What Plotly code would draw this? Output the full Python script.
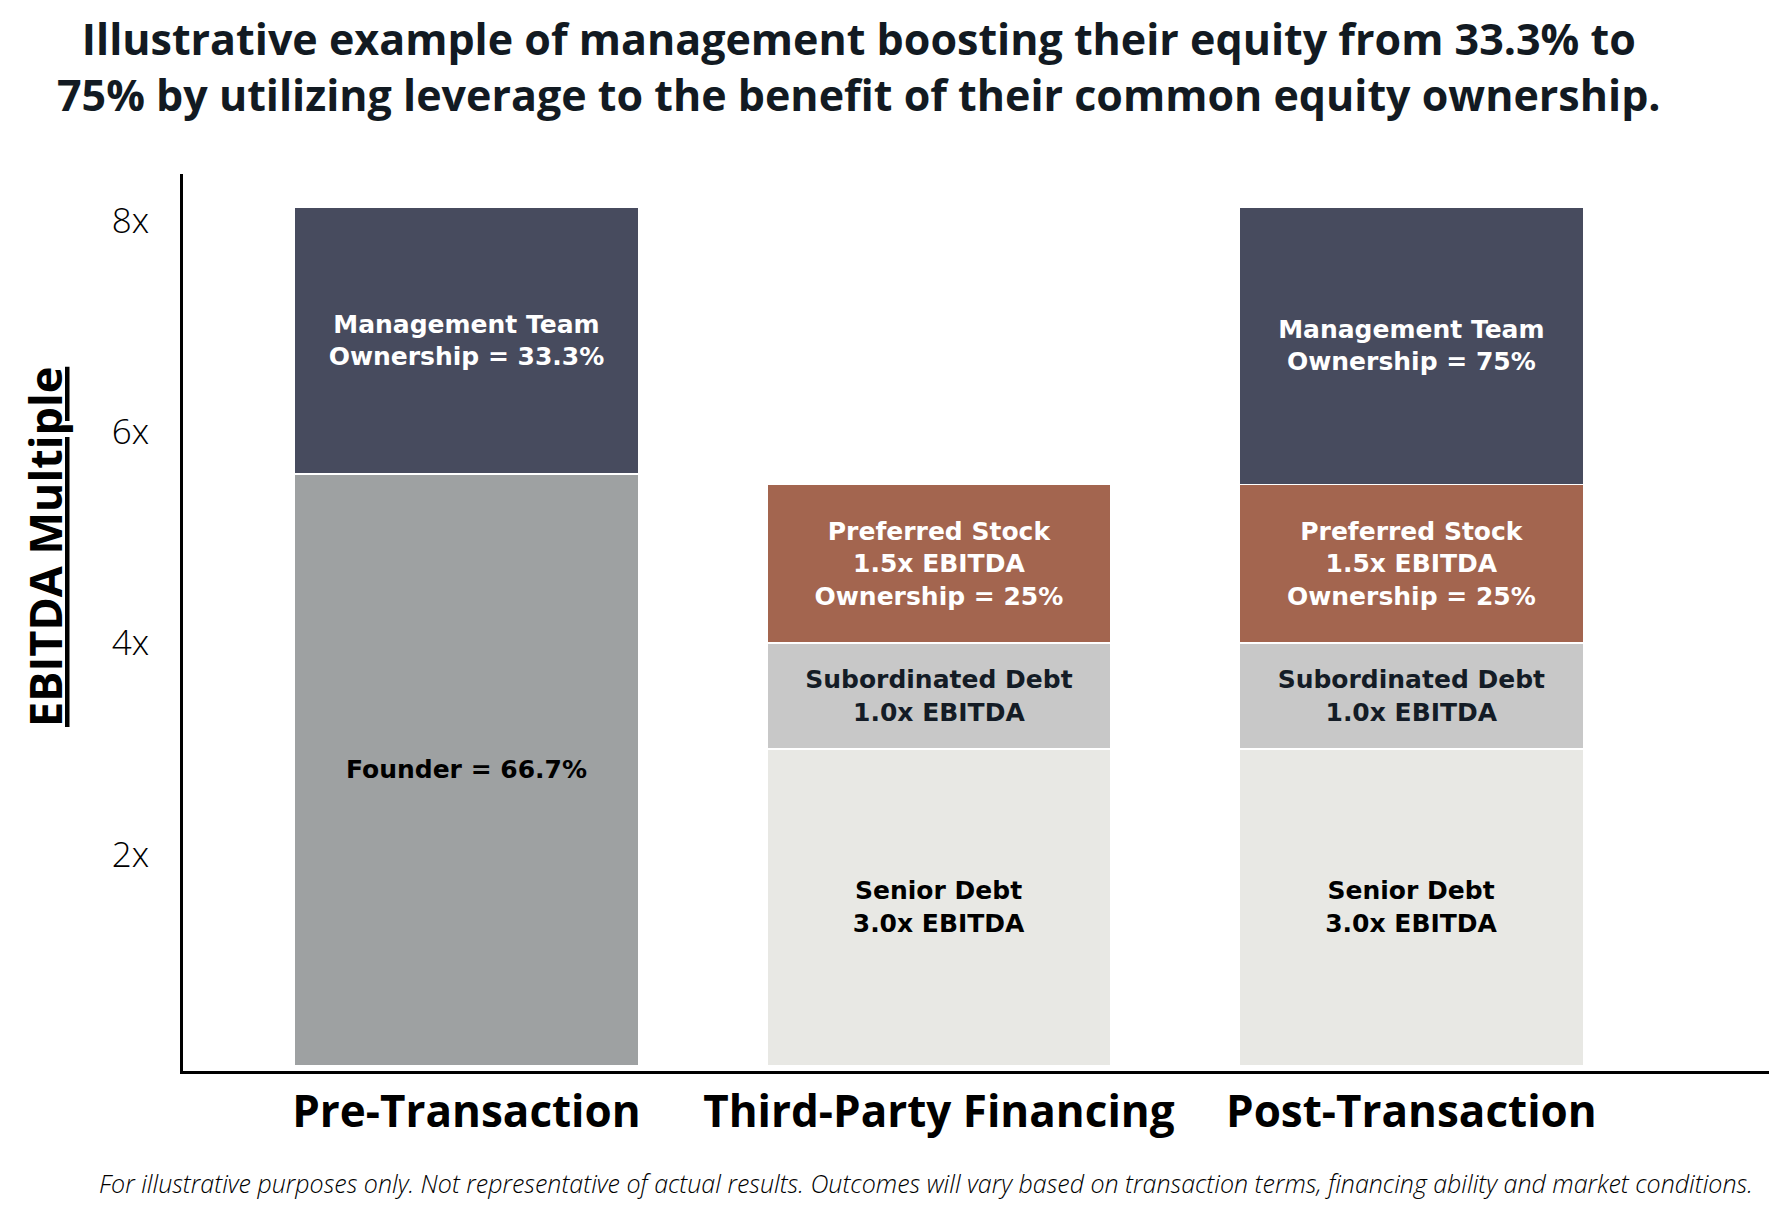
import plotly.graph_objects as go

categories = ["Pre-Transaction", "Third-Party Financing", "Post-Transaction"]

founder = [5.6, None, None]
senior_debt = [None, 3.0, 3.0]
subordinated_debt = [None, 1.0, 1.0]
preferred_stock = [None, 1.5, 1.5]
management = [2.53, None, 2.63]

founder_text = ["Founder = 66.7%", "", ""]
senior_text = ["", "Senior Debt<br>3.0x EBITDA", "Senior Debt<br>3.0x EBITDA"]
sub_text = ["", "Subordinated Debt<br>1.0x EBITDA", "Subordinated Debt<br>1.0x EBITDA"]
pref_text = ["", "Preferred Stock<br>1.5x EBITDA<br>Ownership = 25%",
             "Preferred Stock<br>1.5x EBITDA<br>Ownership = 25%"]
mgmt_text = ["Management Team<br>Ownership = 33.3%", "", "Management Team<br>Ownership = 75%"]

y_tickvals = [2, 4, 6, 8]
y_ticktext = ["2x", "4x", "6x", "8x"]

title_text = ("Illustrative example of management boosting their equity from 33.3% to<br>"
              "75% by utilizing leverage to the benefit of their common equity ownership.")
y_title = "EBITDA Multiple"
footnote = ("For illustrative purposes only. Not representative of actual results. "
            "Outcomes will vary based on transaction terms, financing ability and market conditions.")

W, H = 1792, 1230
ML, MR, MT, MB = 183, 23, 174, 159
PW, PH = W - ML - MR, H - MT - MB


def px(x):
    return (x - ML) / PW


def py(y):
    return (H - MB - y) / PH


HEAD_FONT = "Open Sans"
LABEL_FONT = "DejaVu Sans"

fig = go.Figure()


def add(name, vals, texts, color, tcolor):
    fig.add_trace(go.Bar(
        name=name, x=categories, y=vals, text=texts,
        textposition="inside", insidetextanchor="middle", textangle=0,
        constraintext="none",
        insidetextfont=dict(family=LABEL_FONT, size=25, color=tcolor, weight="bold"),
        marker=dict(color=color, line=dict(color="white", width=1.5)),
        hoverinfo="skip", showlegend=False,
    ))


add("Founder", founder, founder_text, "#9ea1a2", "#000000")
add("Senior Debt", senior_debt, senior_text, "#e8e8e4", "#000000")
add("Subordinated Debt", subordinated_debt, sub_text, "#c8c8c8", "#141c26")
add("Preferred Stock", preferred_stock, pref_text, "#a3654f", "#ffffff")
add("Management Team", management, mgmt_text, "#474b5e", "#ffffff")

annotations = [
    dict(text=title_text, x=px(859), y=py(66), xref="paper", yref="paper",
         showarrow=False, xanchor="center", yanchor="middle",
         font=dict(family=HEAD_FONT, size=43, color="#121a22", weight="bold")),
    dict(text="<u>" + y_title + "</u>", x=px(44), y=py(547), xref="paper", yref="paper",
         showarrow=False, xanchor="center", yanchor="middle", textangle=-90,
         font=dict(family=HEAD_FONT, size=45, color="black", weight="bold")),
    dict(text=footnote, x=px(926), y=py(1183), xref="paper", yref="paper",
         showarrow=False, xanchor="center", yanchor="middle",
         font=dict(family=HEAD_FONT, size=25, color="black", style="italic", weight=300)),
]

fig.update_layout(
    width=W, height=H,
    margin=dict(l=ML, r=MR, t=MT, b=MB),
    barmode="stack", bargap=0.272,
    plot_bgcolor="white", paper_bgcolor="white",
    xaxis=dict(
        range=[-0.6, 2.757], showline=True, linecolor="black", linewidth=2.5,
        showgrid=False, zeroline=False, ticks="",
        tickfont=dict(family=HEAD_FONT, size=44, color="black", weight="bold"),
        ticklabelstandoff=0,
    ),
    yaxis=dict(
        range=[-0.05, 8.44], showline=True, linecolor="black", linewidth=2.5,
        showgrid=False, zeroline=False, ticks="",
        tickvals=y_tickvals, ticktext=y_ticktext,
        tickfont=dict(family=HEAD_FONT, size=35, color="black", weight=300),
        ticklabelstandoff=24,
    ),
    annotations=annotations,
)

fig.write_html("out.html")
